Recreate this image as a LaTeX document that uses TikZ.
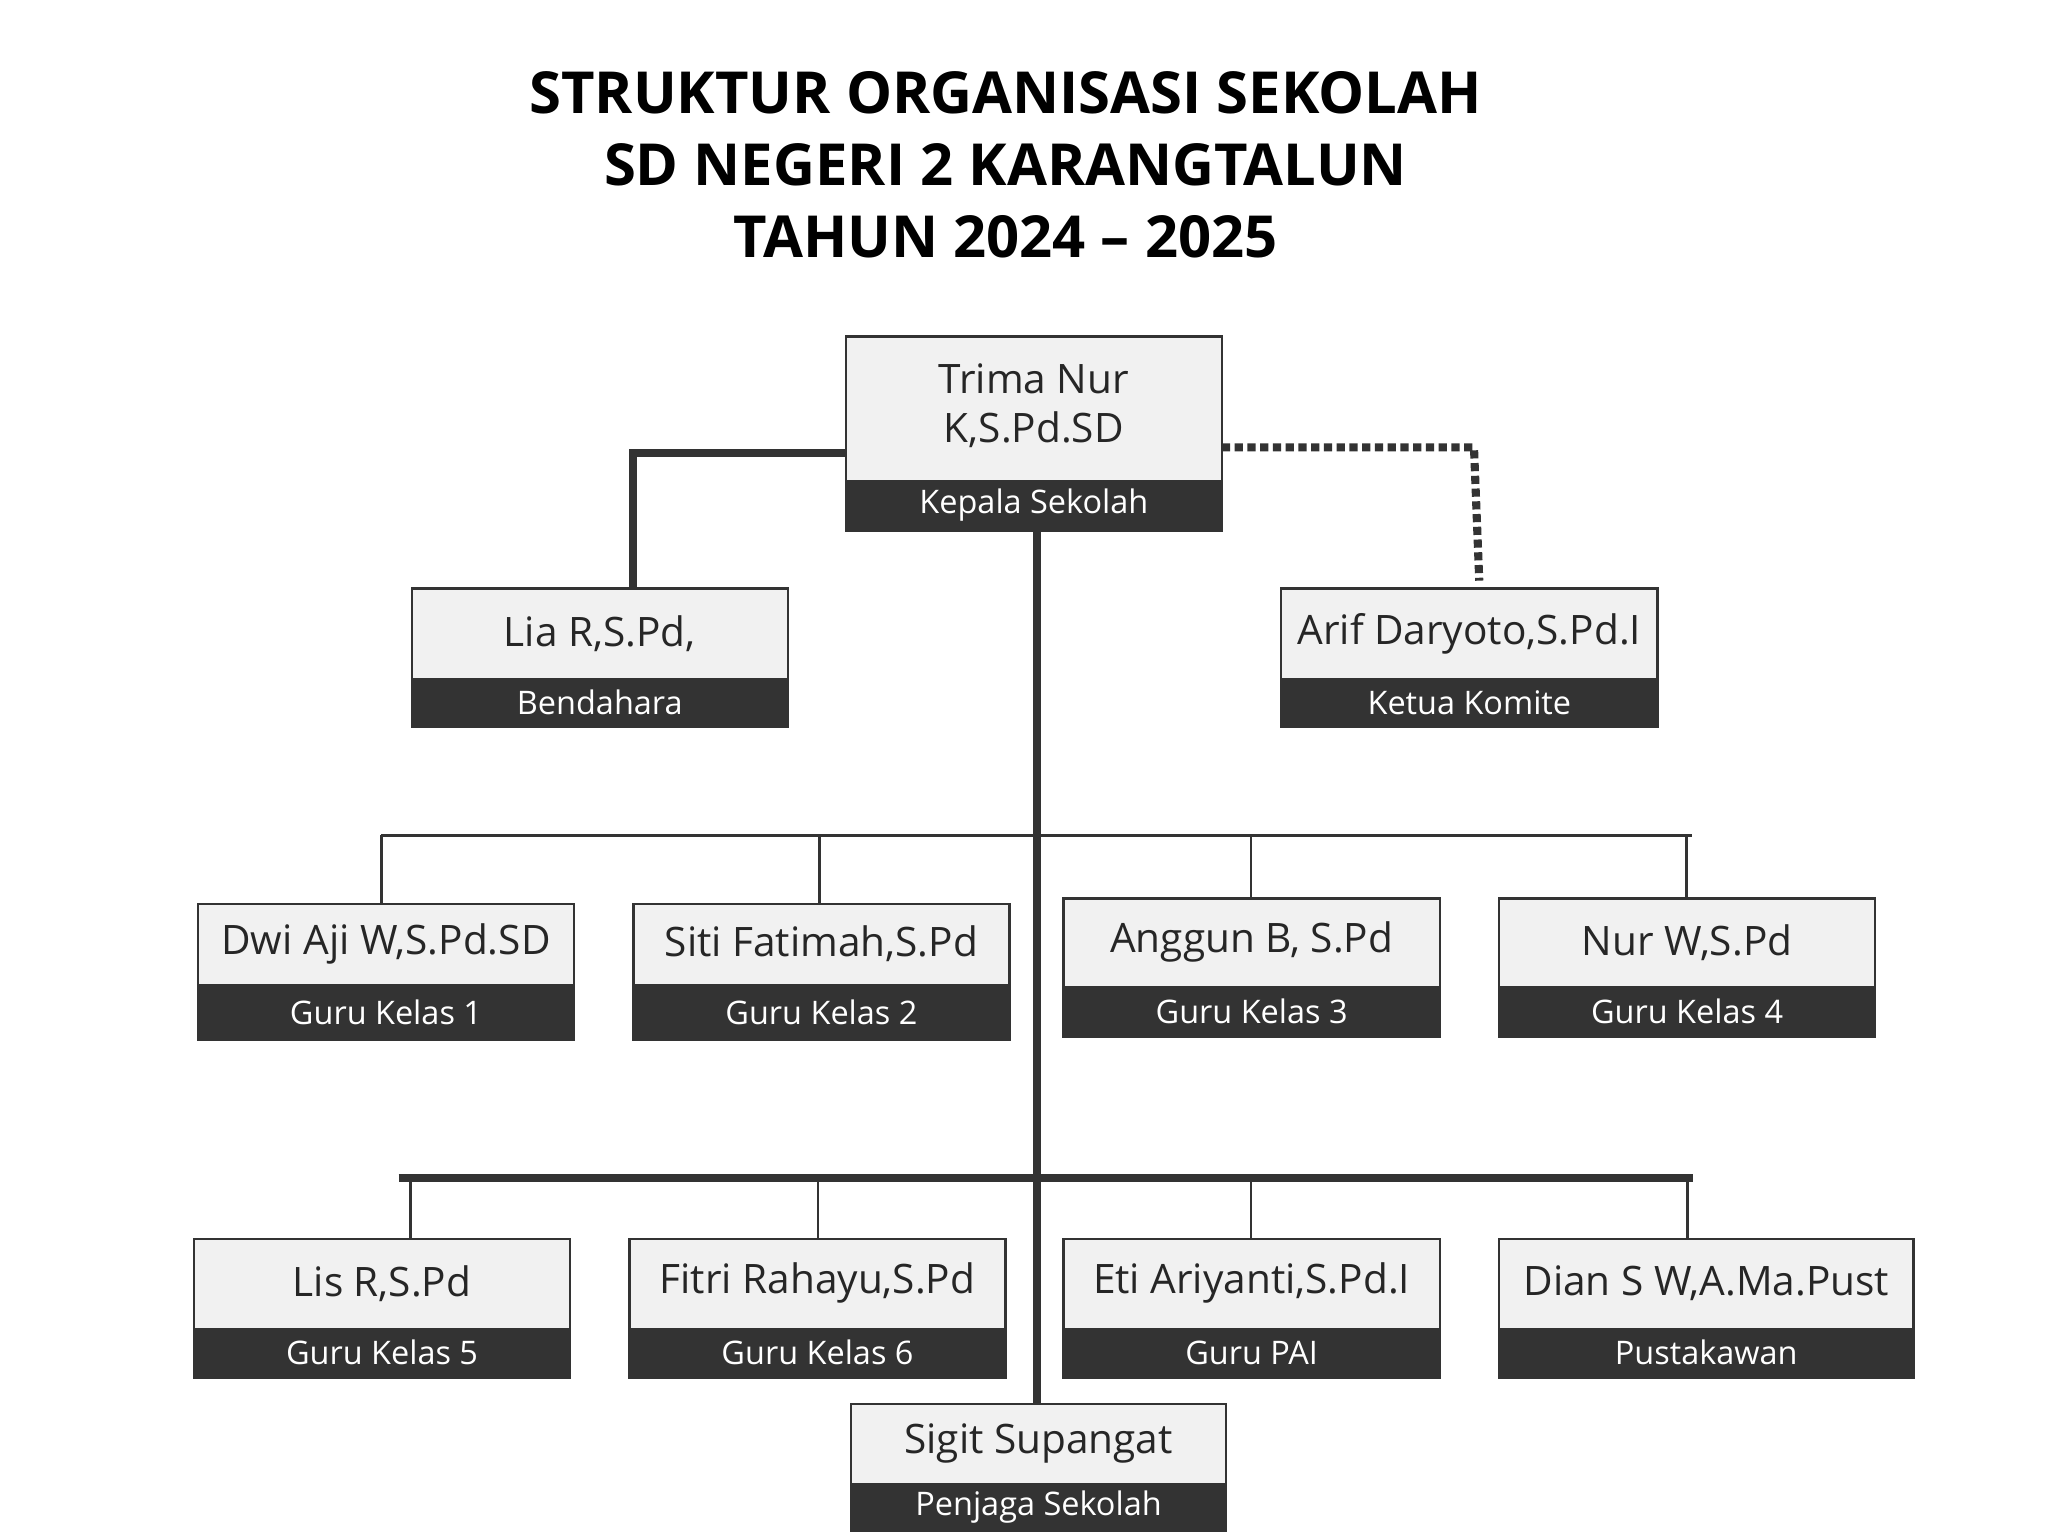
\documentclass[tikz,border=0pt]{standalone}
\usepackage{fontspec}
\setmainfont{Open Sans}
\begin{document}
\begin{tikzpicture}[x=0.02cm,y=-0.02cm]
\definecolor{bandc}{HTML}{333333}
\definecolor{topc}{HTML}{F1F1F1}
\definecolor{linec}{HTML}{333333}
\useasboundingbox[fill=white] (0,0) rectangle (1552,1164);
\tikzset{thinln/.style={line width=1.1pt,draw=linec}}
% title
\node[font=\bfseries\fontsize{25}{30}\selectfont,align=center] (title) at (762,125) {STRUKTUR ORGANISASI SEKOLAH\\[1pt]SD NEGERI 2 KARANGTALUN\\[1pt]TAHUN 2024 -- 2025};
% connectors
\coordinate (lk) at (480,343);
\coordinate (rk) at (1117,339);
\draw[line width=3.5pt,linec] (641,343) -- (lk) -- (480,446);
\draw[line width=3.5pt,linec,dotted] (926,339) -- (rk) -- (1121,440);
\draw[line width=3.5pt,linec] (786,402) -- (786,1064);
\draw[thinln] (289,633) -- (1282,633);
\foreach \x/\y in {289/685,621/685,948/681,1278/681} \draw[thinln] (\x,633) -- (\x,\y);
\draw[line width=3.5pt,linec] (302,893) -- (1283,893);
\foreach \x in {311,620,948,1279} \draw[thinln] (\x,893) -- (\x,939);
% boxes
\newcommand{\obox}[7]{%
 \fill[topc] (#1,#2) rectangle (#3,#4);
 \fill[bandc] (#1,#5) rectangle (#3,#4);
 \draw[linec,line width=1pt] (#1,#2) rectangle (#3,#4);
 \node[font=\fontsize{17.5}{21}\selectfont,text=black!85] at ({(#1+#3)/2},{(#2+#5)/2}) {#6};
 \node[font=\fontsize{14}{17}\selectfont,text=white] at ({(#1+#3)/2},{(#5+#4)/2}) {#7};}
\obox{641}{255}{926}{402}{364}{\begin{tabular}{c}Trima Nur\\[0pt]K,S.Pd.SD\end{tabular}}{Kepala Sekolah}
\obox{312}{446}{597}{551}{514}{Lia R,S.Pd,}{Bendahara}
\obox{971}{446}{1256}{551}{514}{Arif Daryoto,S.Pd.I}{Ketua Komite}
\obox{150}{685}{435}{788}{746}{Dwi Aji W,S.Pd.SD}{Guru Kelas 1}
\obox{480}{685}{765}{788}{746}{Siti Fatimah,S.Pd}{Guru Kelas 2}
\obox{806}{681}{1091}{786}{747}{Anggun B, S.Pd}{Guru Kelas 3}
\obox{1136}{681}{1421}{786}{747}{Nur W,S.Pd}{Guru Kelas 4}
\obox{147}{939}{432}{1044}{1006}{Lis R,S.Pd}{Guru Kelas 5}
\obox{477}{939}{762}{1044}{1006}{Fitri Rahayu,S.Pd}{Guru Kelas 6}
\obox{806}{939}{1091}{1044}{1006}{Eti Ariyanti,S.Pd.I}{Guru PAI}
\obox{1136}{939}{1450}{1044}{1006}{Dian S W,A.Ma.Pust}{Pustakawan}
\obox{645}{1064}{929}{1160}{1124}{Sigit Supangat}{Penjaga Sekolah}
\end{tikzpicture}
\end{document}
